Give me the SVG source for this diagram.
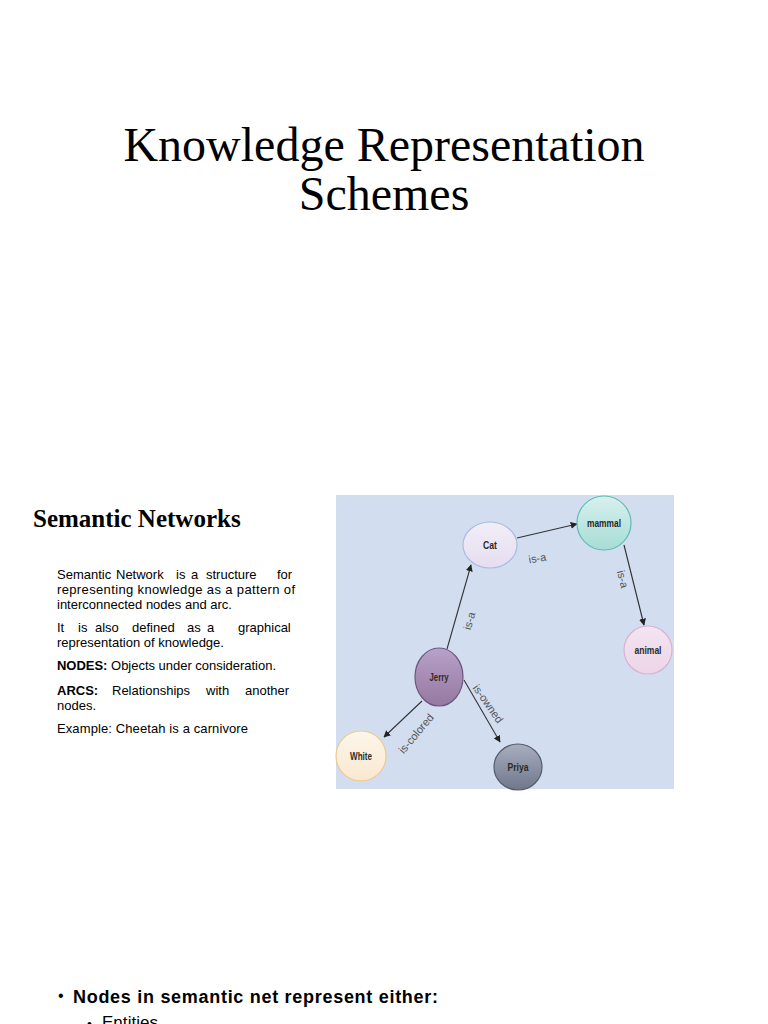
<svg xmlns="http://www.w3.org/2000/svg" width="768" height="1024" viewBox="0 0 768 1024">
  <style>
    .title { font-family: "Liberation Serif", "Times New Roman", serif; font-size: 48px; fill: #000; text-anchor: middle; }
    .h2 { font-family: "Liberation Serif", "Times New Roman", serif; font-size: 25px; font-weight: bold; fill: #000; }
    .body { font-family: "Liberation Sans", Arial, sans-serif; font-size: 13px; fill: #000; }
    .b { font-weight: bold; }
    .node-label { font-family: "Liberation Sans", Arial, sans-serif; font-size: 11px; font-weight: bold; fill: #2a2a2a; text-anchor: middle; }
    .edge-label { font-family: "Liberation Sans", Arial, sans-serif; font-size: 11px; fill: #555; text-anchor: middle; }
    .edge { stroke: #333; stroke-width: 1.1; fill: none; marker-end: url(#arrow); }
    .bullet { font-family: "Liberation Sans", Arial, sans-serif; fill: #000; }
  </style>
  <defs>
    <marker id="arrow" viewBox="0 0 10 10" refX="9" refY="5" markerWidth="7" markerHeight="7" orient="auto" markerUnits="userSpaceOnUse">
      <path d="M0,0 L10,5 L0,10 z" fill="#222"/>
    </marker>
    <linearGradient id="gMammal" x1="0" y1="0" x2="0" y2="1">
      <stop offset="0" stop-color="#d8f0ee"/>
      <stop offset="1" stop-color="#a6ddd5"/>
    </linearGradient>
    <linearGradient id="gJerry" x1="0" y1="0" x2="0" y2="1">
      <stop offset="0" stop-color="#b9a1c9"/>
      <stop offset="1" stop-color="#94789f"/>
    </linearGradient>
    <linearGradient id="gPriya" x1="0" y1="0" x2="0" y2="1">
      <stop offset="0" stop-color="#a8aebf"/>
      <stop offset="1" stop-color="#70778b"/>
    </linearGradient>
    <linearGradient id="gWhite" x1="0" y1="0" x2="0" y2="1">
      <stop offset="0" stop-color="#fdf6ea"/>
      <stop offset="1" stop-color="#f9e8d0"/>
    </linearGradient>
    <linearGradient id="gCat" x1="0" y1="0" x2="0" y2="1">
      <stop offset="0" stop-color="#f2eef8"/>
      <stop offset="1" stop-color="#e6ddf0"/>
    </linearGradient>
    <linearGradient id="gAnimal" x1="0" y1="0" x2="0" y2="1">
      <stop offset="0" stop-color="#f4e4f0"/>
      <stop offset="1" stop-color="#ecd5e7"/>
    </linearGradient>
  </defs>

  <rect width="768" height="1024" fill="#ffffff"/>

  <!-- Title -->
  <text class="title" x="384" y="161">Knowledge Representation</text>
  <text class="title" x="384" y="210">Schemes</text>

  <!-- Left text -->
  <text class="h2" x="33" y="527">Semantic Networks</text>
  <g class="body">
    <text y="579"><tspan x="57">Semantic</tspan><tspan x="116">Network</tspan><tspan x="176">is</tspan><tspan x="191">a</tspan><tspan x="206">structure</tspan><tspan x="277">for</tspan></text>
    <text x="57" y="594" textLength="238" lengthAdjust="spacing">representing knowledge as a pattern of</text>
    <text x="57" y="609">interconnected nodes and arc.</text>
    <text y="632"><tspan x="57">It</tspan><tspan x="78">is</tspan><tspan x="95">also</tspan><tspan x="132">defined</tspan><tspan x="187">as</tspan><tspan x="207">a</tspan><tspan x="238">graphical</tspan></text>
    <text x="57" y="647">representation of knowledge.</text>
    <text x="57" y="670" textLength="219" lengthAdjust="spacing"><tspan class="b">NODES:</tspan> Objects under consideration.</text>
    <text y="695"><tspan x="57" class="b">ARCS:</tspan><tspan x="112">Relationships</tspan><tspan x="206">with</tspan><tspan x="245">another</tspan></text>
    <text x="57" y="710">nodes.</text>
    <text x="57" y="733" textLength="191" lengthAdjust="spacing">Example:  Cheetah is a carnivore</text>
  </g>

  <!-- Diagram panel -->
  <rect x="336" y="495" width="338" height="294" fill="#d2def0"/>

  <g id="connectors">
    <line class="edge" x1="517" y1="538" x2="577" y2="524"/>
    <line class="edge" x1="447" y1="649" x2="471" y2="565"/>
    <line class="edge" x1="624" y1="545" x2="644" y2="625"/>
    <line class="edge" x1="422" y1="701" x2="384" y2="737"/>
    <line class="edge" x1="464" y1="680" x2="500" y2="742"/>
    <text class="edge-label" transform="translate(538,562) rotate(-10)">is-a</text>
    <text class="edge-label" transform="translate(473,622) rotate(-74)">is-a</text>
    <text class="edge-label" transform="translate(619,580) rotate(76)">is-a</text>
    <text class="edge-label" transform="translate(419,736) rotate(-50)">is-colored</text>
    <text class="edge-label" transform="translate(485,706) rotate(55)">is-owned</text>
  </g>

  <g id="node-cat">
    <ellipse cx="490" cy="545" rx="27" ry="23" fill="url(#gCat)" stroke="#a9bde0" stroke-width="1.2"/>
    <text class="node-label" x="490" y="549" textLength="14" lengthAdjust="spacingAndGlyphs">Cat</text>
  </g>
  <g id="node-mammal">
    <circle cx="604" cy="523" r="27" fill="url(#gMammal)" stroke="#62bdb3" stroke-width="1.2"/>
    <text class="node-label" x="604" y="527" textLength="34" lengthAdjust="spacingAndGlyphs">mammal</text>
  </g>
  <g id="node-animal">
    <circle cx="648" cy="650" r="24" fill="url(#gAnimal)" stroke="#d8b2d0" stroke-width="1.2"/>
    <text class="node-label" x="648" y="654" textLength="27" lengthAdjust="spacingAndGlyphs">animal</text>
  </g>
  <g id="node-jerry">
    <ellipse cx="439" cy="677" rx="24" ry="29" fill="url(#gJerry)" stroke="#6e5680" stroke-width="1.2"/>
    <text class="node-label" x="439" y="681" textLength="19" lengthAdjust="spacingAndGlyphs">Jerry</text>
  </g>
  <g id="node-white">
    <circle cx="361" cy="756" r="25" fill="url(#gWhite)" stroke="#eccb8e" stroke-width="1.2"/>
    <text class="node-label" x="361" y="760" textLength="22" lengthAdjust="spacingAndGlyphs">White</text>
  </g>
  <g id="node-priya">
    <ellipse cx="518" cy="767" rx="24" ry="23" fill="url(#gPriya)" stroke="#555c6e" stroke-width="1.2"/>
    <text class="node-label" x="518" y="771" textLength="21" lengthAdjust="spacingAndGlyphs">Priya</text>
  </g>

  <!-- Bottom bullets -->
  <text class="bullet" x="58" y="1001" font-size="16">•</text>
  <text class="bullet" x="73" y="1003" font-size="18" font-weight="bold" textLength="365" lengthAdjust="spacing">Nodes in semantic net represent either:</text>
  <text class="bullet" x="87" y="1029" font-size="14">•</text>
  <text class="bullet" x="102" y="1028" font-size="17" textLength="56" lengthAdjust="spacing">Entities</text>
</svg>
